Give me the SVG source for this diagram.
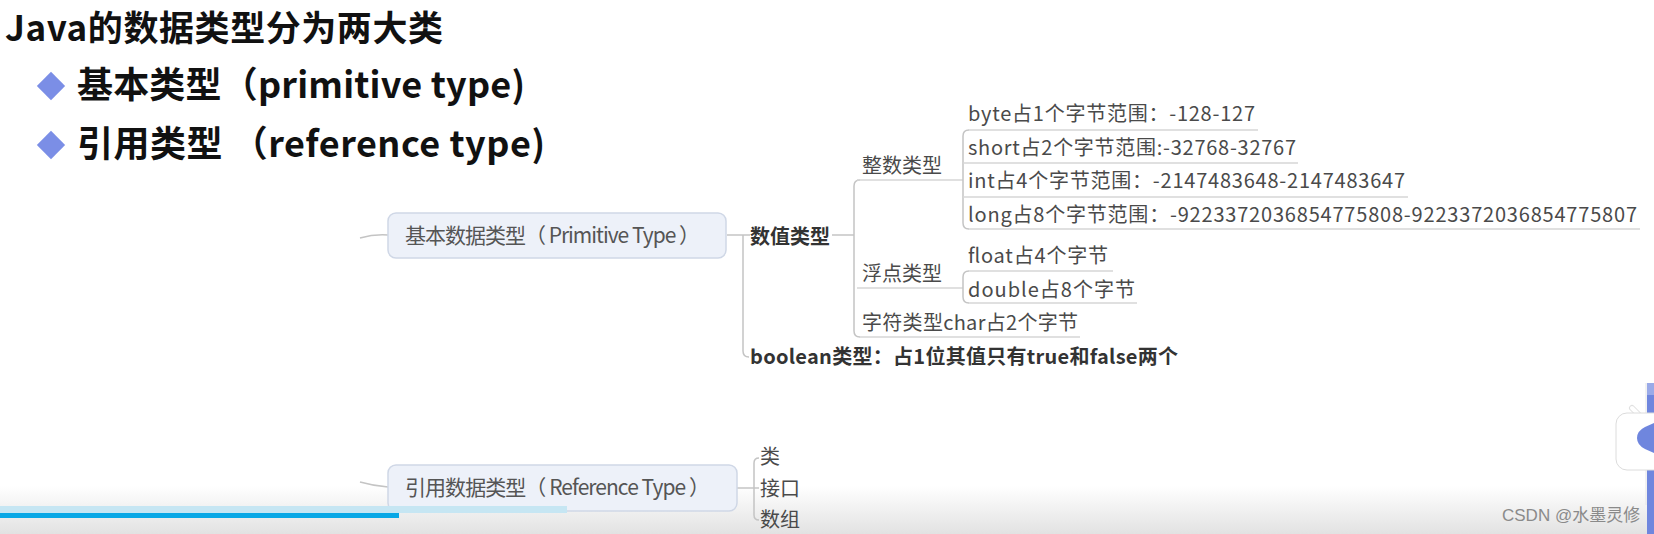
<svg xmlns="http://www.w3.org/2000/svg" width="1654" height="534" viewBox="0 0 1654 534">
<defs>
<style>
.h{font-family:"Noto Sans CJK SC","Noto Sans",sans-serif;font-weight:700;fill:#111}
.box{fill:#edf1f9;stroke:#cfd7e6;stroke-width:1.5}
.bt{font-family:"Noto Sans CJK SC","Noto Sans",sans-serif;font-size:21px;fill:#555}
.t{font-family:"Noto Sans CJK SC","Noto Sans",sans-serif;font-size:20px;fill:#4a4a4a}
.b{font-family:"Noto Sans CJK SC","Noto Sans",sans-serif;font-size:20px;font-weight:700;fill:#333}
.ln{fill:none;stroke:#c4c4c4;stroke-width:1.5}
.ul{fill:none;stroke:#d6d6d6;stroke-width:1.5}
.dia{fill:#7b8ee6}
</style>
<linearGradient id="bot" x1="0" y1="0" x2="0" y2="1">
<stop offset="0" stop-color="#ffffff"/>
<stop offset="1" stop-color="#e2e2e2"/>
</linearGradient>
</defs>
<rect width="1654" height="534" fill="#ffffff"/>
<rect x="0" y="486" width="1654" height="48" fill="url(#bot)"/>

<g id="title">
<text class="h" x="5" y="41" font-size="35" textLength="438">Java的数据类型分为两大类</text>
</g>
<g id="bullet1">
<rect class="dia" x="41" y="76" width="20" height="20" transform="rotate(45 51 86)"/>
<text class="h" x="77" y="98" font-size="36" textLength="448">基本类型（primitive type)</text>
</g>
<g id="bullet2">
<rect class="dia" x="41" y="135" width="20" height="20" transform="rotate(45 51 145)"/>
<text class="h" x="77" y="157" font-size="36" textLength="468">引用类型 （reference type)</text>
</g>

<g id="connectors">
<path class="ln" d="M360,238 Q374,234 388,235"/>
<path class="ln" d="M727,235 L750,235"/>
<path class="ln" d="M743,235 L743,351 Q743,357 749,357"/>
<path class="ln" d="M832,235 L854,235"/>
<path class="ln" d="M854,186 Q854,180 860,180"/>
<path class="ln" d="M854,186 L854,331 Q854,337 860,337"/>
<path class="ul" d="M857,180 L963,180"/>
<path class="ul" d="M857,288 L963,288"/>
<path class="ul" d="M860,337 L1080,337"/>
<path class="ln" d="M963,136 Q963,130 969,130 M963,136 L963,223 Q963,229 969,229"/>
<path class="ul" d="M969,130 L1258,130"/>
<path class="ul" d="M963,163 L1298,163"/>
<path class="ul" d="M963,197 L1408,197"/>
<path class="ul" d="M969,229 L1640,229"/>
<path class="ln" d="M963,277 Q963,271 969,271 M963,277 L963,297 Q963,303 969,303"/>
<path class="ul" d="M969,271 L1113,271"/>
<path class="ul" d="M969,303 L1137,303"/>
<path class="ln" d="M360,482 Q374,486 388,487"/>
<path class="ln" d="M737,488 L759,488"/>
<path class="ln" d="M759,458 Q754,458 754,463 L754,515 Q754,520 759,520"/>
</g>

<g id="primitive">
<rect class="box" x="388" y="213" width="338" height="45" rx="8"/>
<text class="bt" x="405" y="243" textLength="295">基本数据类型（ Primitive Type ）</text>
</g>
<g id="numeric"><text class="b" x="750" y="244" textLength="80">数值类型</text></g>
<g id="boolean"><text class="b" x="750" y="364" textLength="428">boolean类型：占1位其值只有true和false两个</text></g>
<g id="integer"><text class="t" x="862" y="173" textLength="80">整数类型</text></g>
<g id="byte"><text class="t" x="968" y="121" textLength="287">byte占1个字节范围：-128-127</text></g>
<g id="short"><text class="t" x="968" y="155" textLength="328">short占2个字节范围:-32768-32767</text></g>
<g id="int"><text class="t" x="968" y="188" textLength="437">int占4个字节范围：-2147483648-2147483647</text></g>
<g id="long"><text class="t" x="968" y="222" textLength="669">long占8个字节范围：-9223372036854775808-9223372036854775807</text></g>
<g id="floatType"><text class="t" x="862" y="281" textLength="80">浮点类型</text></g>
<g id="float"><text class="t" x="968" y="263" textLength="140">float占4个字节</text></g>
<g id="double"><text class="t" x="968" y="297" textLength="167">double占8个字节</text></g>
<g id="char"><text class="t" x="862" y="330" textLength="216">字符类型char占2个字节</text></g>

<g id="reference">
<rect class="box" x="388" y="465" width="349" height="46" rx="8"/>
<text class="bt" x="405" y="495" textLength="305">引用数据类型（ Reference Type ）</text>
</g>
<g id="class"><text class="t" x="760" y="464">类</text></g>
<g id="interface"><text class="t" x="760" y="496">接口</text></g>
<g id="array"><text class="t" x="760" y="527">数组</text></g>

<g id="overlay">
<rect x="0" y="506" width="567" height="7" fill="#c6e6f3"/>
<rect x="0" y="513" width="399" height="5" fill="#08a8e6"/>
<line x1="1646" y1="383" x2="1646" y2="505" stroke="#e4e4e4" stroke-width="1"/>
<rect x="1647" y="383" width="7" height="151" fill="#6f86de"/>
<rect x="1647" y="383" width="7" height="12" fill="#9aaae8"/>
<line x1="1632" y1="408" x2="1641" y2="417" stroke="#e0e0e0" stroke-width="6" stroke-linecap="round"/>
<line x1="1632" y1="408" x2="1641" y2="417" stroke="#ffffff" stroke-width="4" stroke-linecap="round"/>
<rect x="1616" y="413" width="56" height="57" rx="11" fill="#ffffff" stroke="#dcdcdc" stroke-width="1"/>
<path d="M1654,423 L1645,427 Q1637,431 1637,438 Q1637,445 1645,449 L1654,453 Z" fill="#6f86de"/>
<text x="1502" y="521" font-family="Liberation Sans,Noto Sans CJK SC,sans-serif" font-size="17" fill="#8a8a8a">CSDN @水墨灵修</text>
</g>
</svg>
